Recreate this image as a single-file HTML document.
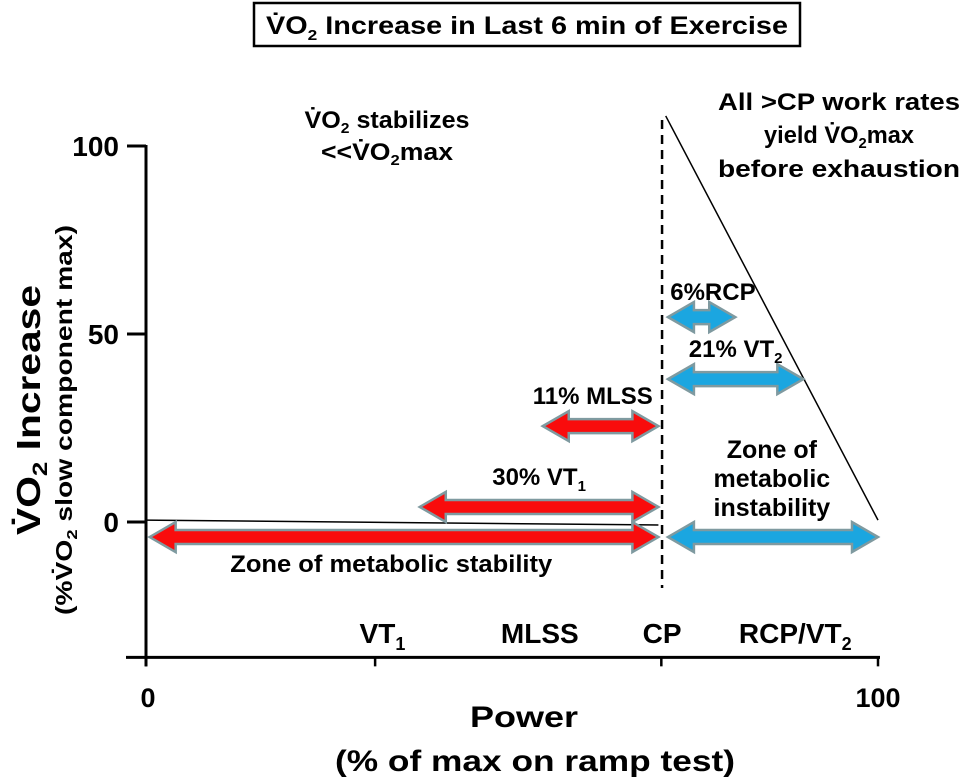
<!DOCTYPE html>
<html><head><meta charset="utf-8"><style>
html,body{margin:0;padding:0;background:#fff}
svg{display:block;font-family:"Liberation Sans",Arial,sans-serif;font-weight:bold}
</style></head><body>
<svg id="chart" width="968" height="784" viewBox="0 0 968 784" xmlns="http://www.w3.org/2000/svg">
<g>
<rect x="254" y="3" width="546" height="43" fill="#fff" stroke="#000" stroke-width="2.5"/>
<text x="527" y="34" font-size="25" text-anchor="middle" textLength="522" lengthAdjust="spacingAndGlyphs">V̇O<tspan font-size="15" dy="6">2</tspan><tspan dy="-6"> Increase in Last 6 min of Exercise</tspan></text>
</g>
<g font-size="24" text-anchor="middle">
<text x="387" y="128" textLength="165" lengthAdjust="spacingAndGlyphs">V̇O<tspan font-size="15" dy="5">2</tspan><tspan dy="-5"> stabilizes</tspan></text>
<text x="387" y="160" textLength="132" lengthAdjust="spacingAndGlyphs">&lt;&lt;V̇O<tspan font-size="15" dy="5">2</tspan><tspan dy="-5">max</tspan></text>
</g>
<g font-size="24" text-anchor="middle">
<text x="839" y="110" textLength="242" lengthAdjust="spacingAndGlyphs">All &gt;CP work rates</text>
<text x="839" y="143" textLength="150" lengthAdjust="spacingAndGlyphs">yield V̇O<tspan font-size="15" dy="5">2</tspan><tspan dy="-5">max</tspan></text>
<text x="839" y="177" textLength="242" lengthAdjust="spacingAndGlyphs">before exhaustion</text>
</g>
<g id="axes"></g>
<g id="marks"></g>
<g transform="translate(40,410) rotate(-90)">
<text x="0" y="0" font-size="33" text-anchor="middle" textLength="250" lengthAdjust="spacingAndGlyphs">V̇O<tspan font-size="21" dy="7">2</tspan><tspan dy="-7"> Increase</tspan></text>
<text x="-10" y="32" font-size="23" text-anchor="middle" textLength="390" lengthAdjust="spacingAndGlyphs">(%V̇O<tspan font-size="15" dy="5">2</tspan><tspan dy="-5"> slow component max)</tspan></text>
</g>
<g text-anchor="middle">
<text x="524" y="727" font-size="30" textLength="108" lengthAdjust="spacingAndGlyphs">Power</text>
<text x="535" y="771" font-size="30" textLength="400" lengthAdjust="spacingAndGlyphs">(% of max on ramp test)</text>
</g>
</svg>
<script>
const xTicks=[0,100];
const yTicks=[100,50,0];
const zoneLabels=["VT1","MLSS","CP","RCP/VT2"];
const zoneLabelX=[32.3,53.8,70.5,88.7];
const cpValue=70.5;
const arrowNames=["stability-zone","vt1-30pct","mlss-11pct","rcp-6pct","vt2-21pct","instability-zone"];
const arrowStart=[0.5,37.4,54.2,71.3,71.3,71.3];
const arrowEnd=[70,70,70,80.5,89.8,100];
const arrowY=[-4,4,25.5,54.5,38,-4];
const arrowColor=["red","red","red","blue","blue","blue"];
const arrowLabels=["","30% VT1","11% MLSS","6%RCP","21% VT2",""];
const baselineX=[0,70];
const baselineY=[0.5,-0.8];
const diagX=[71,100];
const diagY=[108,0.5];

const X=v=>146+v*7.32;
const Y=v=>522-v*3.76;
const NS="http://www.w3.org/2000/svg";
function mk(tag,attrs,parent){const e=document.createElementNS(NS,tag);for(const k in attrs)e.setAttribute(k,attrs[k]);parent.appendChild(e);return e;}
const ax=document.getElementById('axes');
const mg=document.getElementById('marks');
const yBottom=-36;
let yl=mk('line',{x1:X(0),y1:Y(100)-1,x2:X(0),y2:Y(yBottom)+9,stroke:'#000','stroke-width':3},ax);


let xl=mk('line',{x1:X(0)-20,y1:Y(yBottom),x2:X(100)+2,y2:Y(yBottom),stroke:'#000','stroke-width':3},ax);


yTicks.forEach(t=>{
 let l=mk('line',{x1:X(0)-19,y1:Y(t),x2:X(0),y2:Y(t),stroke:'#000','stroke-width':3},ax);
 
 
 let tx=mk('text',{x:X(0)-27,y:Y(t)+10,'font-size':28,'text-anchor':'end'},ax);
 tx.textContent=t;
 
 
});
[0,31.3,70.4,100].forEach(t=>{
 let l=mk('line',{x1:X(t),y1:Y(yBottom),x2:X(t),y2:Y(yBottom)+9,stroke:'#000','stroke-width':2.5},ax);
 
 
});
xTicks.forEach(t=>{
 let tx=mk('text',{x:X(t)+(t==100?0:2),y:707,'font-size':27,'text-anchor':'middle'},ax);
 tx.textContent=t;
 
 
});
zoneLabels.forEach((s,i)=>{
 let tx=mk('text',{x:X(zoneLabelX[i]),y:643,'font-size':28,'text-anchor':'middle'},ax);
 if(s.endsWith('1')||s.endsWith('2')){tx.textContent=s.slice(0,-1);let ts=mk('tspan',{'font-size':18,dy:7},tx);ts.textContent=s.slice(-1);}
 else tx.textContent=s;
 
 
});
let cp=mk('line',{x1:X(cpValue),y1:120,x2:X(cpValue),y2:588,stroke:'#000','stroke-width':2.5,'stroke-dasharray':'9,6'},mg);


let bl=mk('line',{x1:X(baselineX[0]),y1:Y(baselineY[0]),x2:X(baselineX[1]),y2:Y(baselineY[1]),stroke:'#000','stroke-width':1.5},mg);


let dg=mk('line',{x1:X(diagX[0]),y1:Y(diagY[0]),x2:X(diagX[1]),y2:Y(diagY[1]),stroke:'#000','stroke-width':1.5},mg);


arrowStart.forEach((s,i)=>{
 const x1=X(s),x2=X(arrowEnd[i]),y=Y(arrowY[i]);
 const h=7,H=15,L=26;
 const d=`M${x1},${y} L${x1+L},${y-H} L${x1+L},${y-h} L${x2-L},${y-h} L${x2-L},${y-H} L${x2},${y} L${x2-L},${y+H} L${x2-L},${y+h} L${x1+L},${y+h} L${x1+L},${y+H} Z`;
 const p=mk('path',{d:d,fill:arrowColor[i]=='red'?'#f90c0c':'#1ba6e0',stroke:'#7f9aa0','stroke-width':2.5,'stroke-linejoin':'miter'},mg);
 
 
 const lab=arrowLabels[i];
 if(lab){
  const t=mk('text',{x:(x1+x2)/2,y:y-22,'font-size':24,'text-anchor':'middle'},mg);
  if(/\d$/.test(lab)){t.textContent=lab.slice(0,-1);const ts=mk('tspan',{'font-size':15,dy:6},t);ts.textContent=lab.slice(-1);}
  else t.textContent=lab;
  if(i==2){t.setAttribute('x',x1+50);}
  if(i==3){t.setAttribute('x',x1+45);t.setAttribute('y',y-17);}
  
  
 }
});
let z1=mk('text',{x:X(33.5),y:572,'font-size':24,'text-anchor':'middle',textLength:322,lengthAdjust:'spacingAndGlyphs'},mg);
z1.textContent='Zone of metabolic stability';


['Zone of','metabolic','instability'].forEach((s,k)=>{
 let t=mk('text',{x:X(85.5),y:458+k*29,'font-size':25,'text-anchor':'middle'},mg);
 t.textContent=s;
 
 
});
</script>
</body></html>
